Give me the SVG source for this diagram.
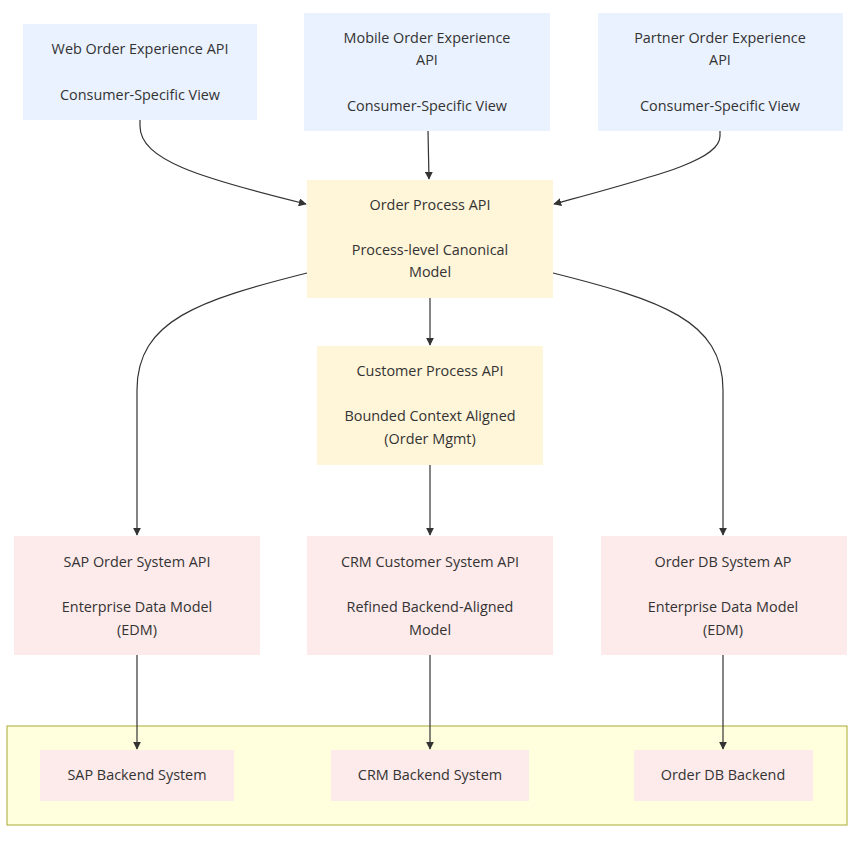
<svg xmlns="http://www.w3.org/2000/svg" width="855" height="849" viewBox="0 0 855 849">
<style>
text{font-family:"Open Sans","DejaVu Sans",sans-serif;font-size:14.4px;fill:#333;text-anchor:middle;dominant-baseline:central;transform:translateY(-1px)}
.exp{fill:#eaf2ff}
.proc{fill:#fff5d9}
.sys{fill:#fdeaea}
.edge{fill:none;stroke:#333;stroke-width:1.2}
</style>
<defs>
<marker id="arr" viewBox="0 0 10 10" refX="9" refY="5" markerWidth="8" markerHeight="8" markerUnits="userSpaceOnUse" orient="auto">
<path d="M0,0 L10,5 L0,10 z" fill="#333"/>
</marker>
</defs>
<rect x="0" y="0" width="855" height="849" fill="#fff"/>
<g id="cluster"><rect x="7" y="726" width="840" height="99" fill="#ffffde" stroke="#aaaa33" stroke-width="1"/></g>
<g id="edges">
<path class="edge" marker-end="url(#arr)" d="M140,120 L140,126 C140,160 200,178 306,204"/>
<path class="edge" marker-end="url(#arr)" d="M428,131 L429,179"/>
<path class="edge" marker-end="url(#arr)" d="M720,131 L720,136 C720,160 660,175 554,204"/>
<path class="edge" marker-end="url(#arr)" d="M307,273 C200,300 137,320 137,390 L137,535"/>
<path class="edge" marker-end="url(#arr)" d="M430,298 L430,345"/>
<path class="edge" marker-end="url(#arr)" d="M553,273 C660,300 723,320 723,390 L723,535"/>
<path class="edge" marker-end="url(#arr)" d="M430,465 L430,535"/>
<path class="edge" marker-end="url(#arr)" d="M137,655 L137,749"/>
<path class="edge" marker-end="url(#arr)" d="M430,655 L430,749"/>
<path class="edge" marker-end="url(#arr)" d="M723,655 L723,749"/>
</g>
<g id="web"><rect class="exp" x="23" y="24" width="234" height="96"/><text x="140" y="49">Web Order Experience API</text><text x="140" y="95">Consumer-Specific View</text></g>
<g id="mobile"><rect class="exp" x="304" y="13" width="246" height="118"/><text x="427" y="38">Mobile Order Experience</text><text x="427" y="60">API</text><text x="427" y="106">Consumer-Specific View</text></g>
<g id="partner"><rect class="exp" x="598" y="13" width="245" height="118"/><text x="720" y="38">Partner Order Experience</text><text x="720" y="60">API</text><text x="720" y="106">Consumer-Specific View</text></g>
<g id="orderProcess"><rect class="proc" x="307" y="180" width="246" height="118"/><text x="430" y="205">Order Process API</text><text x="430" y="250">Process-level Canonical</text><text x="430" y="272">Model</text></g>
<g id="customerProcess"><rect class="proc" x="317" y="346" width="226" height="119"/><text x="430" y="371">Customer Process API</text><text x="430" y="416">Bounded Context Aligned</text><text x="430" y="439">(Order Mgmt)</text></g>
<g id="sapApi"><rect class="sys" x="14" y="536" width="246" height="119"/><text x="137" y="562">SAP Order System API</text><text x="137" y="607">Enterprise Data Model</text><text x="137" y="630">(EDM)</text></g>
<g id="crmApi"><rect class="sys" x="307" y="536" width="246" height="119"/><text x="430" y="562">CRM Customer System API</text><text x="430" y="607">Refined Backend-Aligned</text><text x="430" y="630">Model</text></g>
<g id="dbApi"><rect class="sys" x="601" y="536" width="246" height="119"/><text x="723" y="562">Order DB System AP</text><text x="723" y="607">Enterprise Data Model</text><text x="723" y="630">(EDM)</text></g>
<g id="sapBackend"><rect class="sys" x="40" y="750" width="194" height="51"/><text x="137" y="775">SAP Backend System</text></g>
<g id="crmBackend"><rect class="sys" x="331" y="750" width="198" height="51"/><text x="430" y="775">CRM Backend System</text></g>
<g id="dbBackend"><rect class="sys" x="634" y="750" width="179" height="51"/><text x="723" y="775">Order DB Backend</text></g>
</svg>
